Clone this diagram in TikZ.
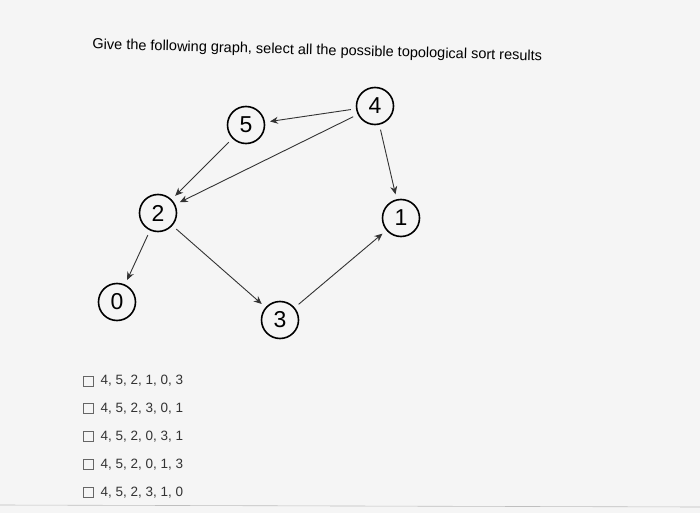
\documentclass[tikz,border=0pt]{standalone}
\usepackage{fontspec}
\setmainfont{Liberation Sans}
\usetikzlibrary{arrows.meta}
\begin{document}
\begin{tikzpicture}[x=1pt,y=-1pt,
  vtx/.style={circle,draw,line width=1.6pt,minimum size=37pt,inner sep=0pt,font=\fontsize{23}{23}\selectfont},
  edge/.style={draw=black!80,line width=0.9pt,shorten >=5pt,shorten <=5pt,-{Stealth[length=8pt,width=7pt]}},
  box/.style={draw=black!60,line width=0.7pt,minimum size=10pt,inner sep=0pt},
  opt/.style={anchor=west,font=\fontsize{13.5}{13.5}\selectfont,text=black!80}]
\fill[black!4] (0,0) rectangle (700,513);
\useasboundingbox (0,0) rectangle (700,513);
\draw[black!25,line width=0.6pt] (0,505) -- (700,507);
\node[anchor=west,font=\fontsize{14.5}{15}\selectfont,rotate=-1.5] (title) at (89,45) {Give the following graph, select all the possible topological sort results};
\node[vtx] (n5) at (246,125) {5};
\node[vtx] (n4) at (375,106) {4};
\node[vtx] (n2) at (158,213) {2};
\node[vtx] (n1) at (401,218) {1};
\node[vtx] (n0) at (117,302) {0};
\node[vtx] (n3) at (280,320) {3};
\draw[edge] (n4) -- (n5);
\draw[edge] (n4) -- (n2);
\draw[edge] (n5) -- (n2);
\draw[edge] (n4) -- (n1);
\draw[edge] (n2) -- (n0);
\draw[edge] (n2) -- (n3);
\draw[edge] (n3) -- (n1);
\foreach \i/\t in {0/{4, 5, 2, 1, 0, 3},1/{4, 5, 2, 3, 0, 1},2/{4, 5, 2, 0, 3, 1},3/{4, 5, 2, 0, 1, 3},4/{4, 5, 2, 3, 1, 0}}{
  \node[box] (b\i) at (88,381+27.8*\i) {};
  \node[opt] (t\i) at (97,381+27.8*\i) {\t};
}
\end{tikzpicture}
\end{document}
